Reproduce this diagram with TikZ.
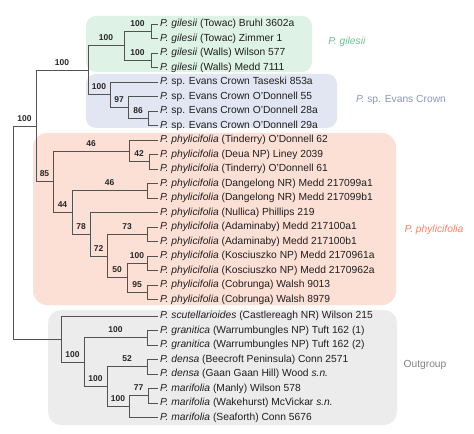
\documentclass[tikz,border=0pt]{standalone}
\usepackage{fontspec}
\setmainfont{Liberation Sans}
\definecolor{gilfill}{RGB}{222,242,229}
\definecolor{evfill}{RGB}{226,229,242}
\definecolor{phyfill}{RGB}{252,224,214}
\definecolor{outfill}{RGB}{236,236,236}
\definecolor{gilcol}{RGB}{112,188,148}
\definecolor{evcol}{RGB}{140,150,188}
\definecolor{phycol}{RGB}{238,132,104}
\definecolor{outcol}{RGB}{130,130,130}
\newcommand{\leaffont}{\fontsize{10.3}{12}\selectfont}
\newcommand{\bsfont}{\fontsize{8.5}{10}\selectfont\bfseries}
\begin{document}
\begin{tikzpicture}[x=1bp, y=-1bp,
  leaf/.style={anchor=west, inner xsep=2bp, inner ysep=0pt, font=\leaffont,
    text=black!88, text height=7.4bp, text depth=2.2bp},
  bs/.style={above=3.5bp, inner sep=1bp, font=\bsfont, text=black!85},
  branch/.style={draw=black!68, line width=0.75bp},
  clade/.style={rounded corners=10bp},
  cladelbl/.style={font=\leaffont}
]
\useasboundingbox (0,0) rectangle (474,434);
% === Clade boxes ===
\fill[gilfill, clade] (86,16) rectangle (312,72);
\fill[evfill, clade] (86,74) rectangle (337,128);
\fill[phyfill, clade, rounded corners=14bp] (33,133) rectangle (396,305);
\fill[outfill, clade, rounded corners=13bp] (48,310) rectangle (397,425);
% === Clade names ===
\node[cladelbl, text=gilcol] (gillbl) at (347,42) {\textit{P. gilesii}};
\node[cladelbl, text=evcol] (evlbl) at (401,100) {\textit{P.} sp. Evans Crown};
\node[cladelbl, text=phycol] (phylbl) at (434,230) {\textit{P. phylicifolia}};
\node[cladelbl, text=outcol] (outlbl) at (425,365) {Outgroup};
% === Leaves ===
\node[leaf] (l1) at (158,24) {\textit{P. gilesii} (Towac) Bruhl 3602a};
\node[leaf] (l2) at (158,38.5) {\textit{P. gilesii} (Towac) Zimmer 1};
\node[leaf] (l3) at (158,53) {\textit{P. gilesii} (Walls) Wilson 577};
\node[leaf] (l4) at (158,67.5) {\textit{P. gilesii} (Walls) Medd 7111};
\node[leaf] (l5) at (158,82) {\textit{P.} sp. Evans Crown Taseski 853a};
\node[leaf] (l6) at (158,96.5) {\textit{P.} sp. Evans Crown O'Donnell 55};
\node[leaf] (l7) at (158,111) {\textit{P.} sp. Evans Crown O'Donnell 28a};
\node[leaf] (l8) at (158,125.5) {\textit{P.} sp. Evans Crown O'Donnell 29a};
\node[leaf] (l9) at (158,140) {\textit{P. phylicifolia} (Tinderry) O'Donnell 62};
\node[leaf] (l10) at (158,154.5) {\textit{P. phylicifolia} (Deua NP) Liney 2039};
\node[leaf] (l11) at (158,169) {\textit{P. phylicifolia} (Tinderry) O'Donnell 61};
\node[leaf] (l12) at (158,183.5) {\textit{P. phylicifolia} (Dangelong NR) Medd 217099a1};
\node[leaf] (l13) at (158,198) {\textit{P. phylicifolia} (Dangelong NR) Medd 217099b1};
\node[leaf] (l14) at (158,212.5) {\textit{P. phylicifolia} (Nullica) Phillips 219};
\node[leaf] (l15) at (158,227) {\textit{P. phylicifolia} (Adaminaby) Medd 217100a1};
\node[leaf] (l16) at (158,241.5) {\textit{P. phylicifolia} (Adaminaby) Medd 217100b1};
\node[leaf] (l17) at (158,256) {\textit{P. phylicifolia} (Kosciuszko NP) Medd 2170961a};
\node[leaf] (l18) at (158,270.5) {\textit{P. phylicifolia} (Kosciuszko NP) Medd 2170962a};
\node[leaf] (l19) at (158,285) {\textit{P. phylicifolia} (Cobrunga) Walsh 9013};
\node[leaf] (l20) at (158,299.5) {\textit{P. phylicifolia} (Cobrunga) Walsh 8979};
\node[leaf] (l21) at (158,316) {\textit{P. scutellarioides} (Castlereagh NR) Wilson 215};
\node[leaf] (l22) at (158,330.5) {\textit{P. granitica} (Warrumbungles NP) Tuft 162 (1)};
\node[leaf] (l23) at (158,345) {\textit{P. granitica} (Warrumbungles NP) Tuft 162 (2)};
\node[leaf] (l24) at (158,359.5) {\textit{P. densa} (Beecroft Peninsula) Conn 2571};
\node[leaf] (l25) at (158,374) {\textit{P. densa} (Gaan Gaan Hill) Wood \textit{s.n.}};
\node[leaf] (l26) at (158,388.5) {\textit{P. marifolia} (Manly) Wilson 578};
\node[leaf] (l27) at (158,403) {\textit{P. marifolia} (Wakehurst) McVickar \textit{s.n.}};
\node[leaf] (l28) at (158,417.5) {\textit{P. marifolia} (Seaforth) Conn 5676};
% === Internal nodes ===
\coordinate (root) at (13,232.5);
\coordinate (ingrp) at (36,126);
\coordinate (gilev) at (88,70.2);
\coordinate (gil) at (124,45.75);
\coordinate (towac) at (151,31.25);
\coordinate (walls) at (151,60.25);
\coordinate (evans) at (110,94.7);
\coordinate (ev97) at (128,107.4);
\coordinate (ev86) at (148,118.25);
\coordinate (phy) at (53,181.75);
\coordinate (phy46) at (129,151);
\coordinate (phy42) at (149,161.75);
\coordinate (phy44) at (72,212.5);
\coordinate (dang) at (147,190.75);
\coordinate (phy78) at (90,234.25);
\coordinate (phy72) at (107,256);
\coordinate (adam) at (147,234.25);
\coordinate (phy50) at (127,277.75);
\coordinate (kosc) at (147,263.25);
\coordinate (cobr) at (147,292.25);
\coordinate (outg) at (61,339.1);
\coordinate (out84) at (84,362.2);
\coordinate (gran) at (147,337.75);
\coordinate (out107) at (107,386.7);
\coordinate (dens) at (147,366.75);
\coordinate (mari) at (129,406.6);
\coordinate (mari77) at (148,395.75);
% === Branches with support values ===
\draw[branch] (root) |- node[bs, pos=0.75] {100} (ingrp);
\draw[branch] (root) |- (outg);
\draw[branch] (ingrp) |- node[bs, pos=0.75] {100} (gilev);
\draw[branch] (ingrp) |- node[bs, pos=0.75] {85} (phy);
% P. gilesii
\draw[branch] (gilev) |- node[bs, pos=0.75] {100} (gil);
\draw[branch] (gil) |- node[bs, pos=0.75] {100} (towac);
\draw[branch] (gil) |- node[bs, pos=0.75] {100} (walls);
\draw[branch] (towac) |- (l1.west);
\draw[branch] (towac) |- (l2.west);
\draw[branch] (walls) |- (l3.west);
\draw[branch] (walls) |- (l4.west);
% P. sp. Evans Crown
\draw[branch] (gilev) |- node[bs, pos=0.75] {100} (evans);
\draw[branch] (evans) |- (l5.west);
\draw[branch] (evans) |- node[bs, pos=0.75] {97} (ev97);
\draw[branch] (ev97) |- (l6.west);
\draw[branch] (ev97) |- node[bs, pos=0.75] {86} (ev86);
\draw[branch] (ev86) |- (l7.west);
\draw[branch] (ev86) |- (l8.west);
% P. phylicifolia
\draw[branch] (phy) |- node[bs, pos=0.75] {46} (phy46);
\draw[branch] (phy46) |- (l9.west);
\draw[branch] (phy46) |- node[bs, pos=0.75] {42} (phy42);
\draw[branch] (phy42) |- (l10.west);
\draw[branch] (phy42) |- (l11.west);
\draw[branch] (phy) |- node[bs, pos=0.75] {44} (phy44);
\draw[branch] (phy44) |- node[bs, pos=0.75] {46} (dang);
\draw[branch] (dang) |- (l12.west);
\draw[branch] (dang) |- (l13.west);
\draw[branch] (phy44) |- node[bs, pos=0.75] {78} (phy78);
\draw[branch] (phy78) |- (l14.west);
\draw[branch] (phy78) |- node[bs, pos=0.75] {72} (phy72);
\draw[branch] (phy72) |- node[bs, pos=0.75] {73} (adam);
\draw[branch] (adam) |- (l15.west);
\draw[branch] (adam) |- (l16.west);
\draw[branch] (phy72) |- node[bs, pos=0.75] {50} (phy50);
\draw[branch] (phy50) |- node[bs, pos=0.75] {100} (kosc);
\draw[branch] (kosc) |- (l17.west);
\draw[branch] (kosc) |- (l18.west);
\draw[branch] (phy50) |- node[bs, pos=0.75] {95} (cobr);
\draw[branch] (cobr) |- (l19.west);
\draw[branch] (cobr) |- (l20.west);
% Outgroup
\draw[branch] (outg) |- (l21.west);
\draw[branch] (outg) |- node[bs, pos=0.75] {100} (out84);
\draw[branch] (out84) |- node[bs, pos=0.75] {100} (gran);
\draw[branch] (gran) |- (l22.west);
\draw[branch] (gran) |- (l23.west);
\draw[branch] (out84) |- node[bs, pos=0.75] {100} (out107);
\draw[branch] (out107) |- node[bs, pos=0.75] {52} (dens);
\draw[branch] (dens) |- (l24.west);
\draw[branch] (dens) |- (l25.west);
\draw[branch] (out107) |- node[bs, pos=0.75] {100} (mari);
\draw[branch] (mari) |- node[bs, pos=0.75] {77} (mari77);
\draw[branch] (mari77) |- (l26.west);
\draw[branch] (mari77) |- (l27.west);
\draw[branch] (mari) |- (l28.west);
\end{tikzpicture}
\end{document}
